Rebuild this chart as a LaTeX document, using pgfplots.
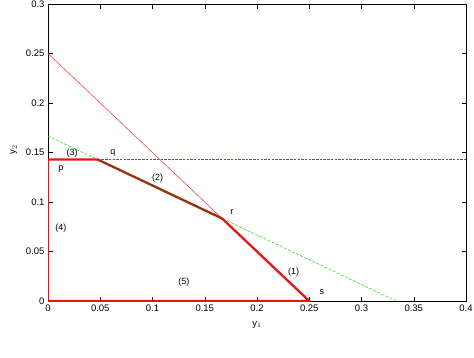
\documentclass[border=0pt]{standalone}
\usepackage{pgfplots}
\pgfplotsset{compat=1.18}
\usepackage{fontspec}
\setmainfont{Liberation Sans}
\definecolor{brownline}{RGB}{150,50,12}
\definecolor{gpgreen}{RGB}{60,220,40}
\definecolor{gpblue}{RGB}{70,70,245}
\definecolor{gpred}{RGB}{235,20,20}
\definecolor{thinred}{RGB}{245,70,70}
\begin{document}
\begin{tikzpicture}
\useasboundingbox (0,0) rectangle (474pt,357pt);
\begin{axis}[
  at={(48pt,56pt)}, anchor=south west,
  scale only axis, width=418pt, height=297pt,
  xmin=0, xmax=0.4, ymin=0, ymax=0.3,
  xtick={0,0.05,...,0.4}, ytick={0,0.05,...,0.3},
  tick align=inside, major tick length=4.5pt,
  tick style={black, line width=0.5pt},
  axis line style={black, line width=0.6pt},
  /pgf/number format/.cd, fixed, precision=2, assume math mode=true,
  /pgfplots/.cd,
  tick label style={font=\fontsize{9.5}{11}\selectfont},
  xlabel={y$_1$}, ylabel={y$_2$},
  label style={font=\fontsize{9.5}{11}\selectfont},
  xlabel style={at={(0.5,0)}, anchor=north, yshift=-17pt},
  ylabel style={at={(0,0.51)}, anchor=south, yshift=27pt},
  clip=true,
]
% thin red line
\addplot[draw=thinred, line width=0.6pt] coordinates {(0,0.25) (0.25,0)};
% green dashed
\addplot[draw=gpgreen, line width=0.6pt, dash pattern=on 3pt off 1.5pt] coordinates {(0,0.1666667) (0.3333333,0)};
% blue dashed
\addplot[color=gpblue, line width=0.8pt, dash pattern=on 2.5pt off 1.2pt] coordinates {(0.0476,0.1428571) (0.4,0.1428571)};
% feasible region
\addplot[draw=gpred, line width=2.3pt, line join=miter] coordinates {(0.0476190,0.1428571) (0,0.1428571) (0,0) (0.25,0) (0.1666667,0.0833333)};
\addplot[draw=brownline, line width=2.3pt] coordinates {(0.0476190,0.1428571) (0.1666667,0.0833333)};
% labels
\node[font=\fontsize{9}{10}\selectfont] at (axis cs:0.023,0.1495) {(3)};
\node[font=\fontsize{9}{10}\selectfont] at (axis cs:0.062,0.1495) {q};
\node[font=\fontsize{9}{10}\selectfont] at (axis cs:0.0124,0.133) {p};
\node[font=\fontsize{9}{10}\selectfont] at (axis cs:0.105,0.124) {(2)};
\node[font=\fontsize{9}{10}\selectfont] at (axis cs:0.176,0.090) {r};
\node[font=\fontsize{9}{10}\selectfont] at (axis cs:0.0124,0.074) {(4)};
\node[font=\fontsize{9}{10}\selectfont] at (axis cs:0.235,0.029) {(1)};
\node[font=\fontsize{9}{10}\selectfont] at (axis cs:0.130,0.019) {(5)};
\node[font=\fontsize{9}{10}\selectfont] at (axis cs:0.262,0.009) {s};
\end{axis}
\end{tikzpicture}
\end{document}
